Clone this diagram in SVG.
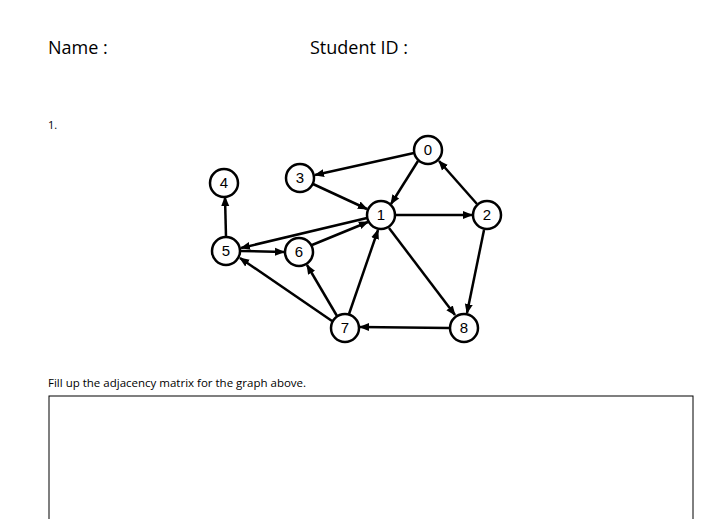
<svg xmlns="http://www.w3.org/2000/svg" width="710" height="519" viewBox="0 0 710 519">
<style>
.n circle{fill:#fff;stroke:#000;stroke-width:2.5}
.n text{font-family:"Liberation Sans",Arial,sans-serif;font-size:15px;text-anchor:middle}
.e line{stroke:#000;stroke-width:2.5;marker-end:url(#a)}
.t{font-family:"Open Sans","Liberation Sans",sans-serif}
</style>
<defs><marker id="a" viewBox="0 0 10 10" refX="9" refY="5" markerWidth="4" markerHeight="4" orient="auto" markerUnits="strokeWidth"><path d="M0,1 L10,5 L0,9 z" fill="#000"/></marker></defs>
<rect width="710" height="519" fill="#fff"/>
<text class="t" x="48" y="54" font-size="18">Name :</text>
<text class="t" x="310" y="54" font-size="18">Student ID :</text>
<text class="t" x="48" y="129" font-size="11">1.</text>
<text class="t" x="48" y="387" font-size="11.5">Fill up the adjacency matrix for the graph above.</text>
<rect x="49" y="396" width="644" height="140" fill="none" stroke="#000" stroke-width="1"/>
<g id="edges" class="e">
<line x1="414" y1="153" x2="315" y2="175"/>
<line x1="418" y1="161" x2="391" y2="204"/>
<line x1="477" y1="204" x2="439" y2="161"/>
<line x1="313" y1="184" x2="367" y2="209"/>
<line x1="396" y1="215" x2="472" y2="215"/>
<line x1="367" y1="218" x2="241" y2="248"/>
<line x1="389" y1="228" x2="455" y2="315"/>
<line x1="484" y1="230" x2="467" y2="313"/>
<line x1="226" y1="237" x2="225" y2="197"/>
<line x1="241" y1="251" x2="284" y2="252"/>
<line x1="312" y1="245" x2="368" y2="222"/>
<line x1="349" y1="314" x2="378" y2="230"/>
<line x1="337" y1="316" x2="307" y2="265"/>
<line x1="332" y1="321" x2="240" y2="258"/>
<line x1="449" y1="328" x2="360" y2="327"/>
</g>
<g id="n0" class="n"><circle cx="428" cy="150" r="14"/><text x="428" y="155">0</text></g>
<g id="n1" class="n"><circle cx="381" cy="215" r="14"/><text x="381" y="220">1</text></g>
<g id="n2" class="n"><circle cx="487" cy="215" r="14"/><text x="487" y="220">2</text></g>
<g id="n3" class="n"><circle cx="300" cy="178" r="14"/><text x="300" y="183">3</text></g>
<g id="n4" class="n"><circle cx="224" cy="183" r="14"/><text x="224" y="188">4</text></g>
<g id="n5" class="n"><circle cx="226" cy="251" r="14"/><text x="226" y="256">5</text></g>
<g id="n6" class="n"><circle cx="299" cy="252" r="14"/><text x="299" y="257">6</text></g>
<g id="n7" class="n"><circle cx="345" cy="328" r="14"/><text x="345" y="333">7</text></g>
<g id="n8" class="n"><circle cx="464" cy="328" r="14"/><text x="464" y="333">8</text></g>
</svg>
